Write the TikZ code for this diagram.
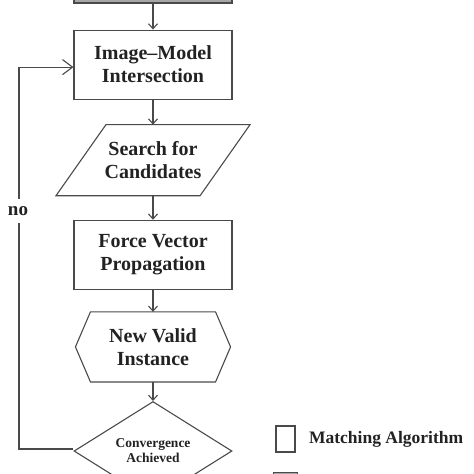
\documentclass[tikz,border=0pt]{standalone}
\usepackage{fontspec}
\setmainfont{Liberation Serif}
\usetikzlibrary{positioning,shapes.geometric,arrows.meta}
\definecolor{edge}{HTML}{4A4A4A}
\definecolor{shade}{HTML}{A6A6A6}
\definecolor{ink}{HTML}{222222}

\begin{document}
\begin{tikzpicture}[x=1pt, y=-1pt, line width=1.1pt, >={Straight Barb[length=5pt,width=9pt]},
    main/.style = {draw=edge, rectangle, minimum width=158pt, minimum height=69pt, align=center, text=ink, font=\fontsize{20}{23}\selectfont\bfseries},
    io/.style = {main, draw=none, minimum width=143pt, minimum height=70pt},
    hexa/.style = {main, draw=none, minimum width=154pt},
    cond/.style = {draw=edge, diamond, inner sep=0pt, minimum width=158pt, minimum height=78pt, align=center, text=ink, font=\fontsize{13.5}{15}\selectfont\bfseries},
    key/.style = {draw=edge, rectangle, minimum width=19pt, minimum height=26pt}]
  \useasboundingbox (0,0) rectangle (474,474);
  \clip (0,0) rectangle (474,474);

    \node[main, fill=shade] (pre) at (153,-31.5) {};
    \node[main] (imi) [below=26pt of pre] {Image--Model\\Intersection};
    \node[io] (srch) [below=25pt of imi] {Search for\\Candidates};
    \node[main] (fvp) [below=24pt of srch] {Force Vector\\Propagation};
    \node[hexa] (nvi) [below=22pt of fvp] {New Valid\\Instance};
    \node[cond] (conv) [below=19pt of nvi] {Convergence\\Achieved};
    \node[fill=white, inner xsep=1pt, inner ysep=7pt, text=ink, font=\fontsize{19}{21}\selectfont\bfseries] (no) at (18,211) {no};

    % outlines of the slanted and the six-sided box
    \draw[edge] ([xshift=25pt]srch.north west) -- ([xshift=25pt]srch.north east)
      -- ([xshift=-25pt]srch.south east) -- ([xshift=-25pt]srch.south west) -- cycle;
    \draw[edge] ([xshift=15pt]nvi.north west) -- ([xshift=-15pt]nvi.north east) -- (nvi.east)
      -- ([xshift=-15pt]nvi.south east) -- ([xshift=15pt]nvi.south west) -- (nvi.west) -- cycle;

    \draw[edge, ->] (pre) -- (imi);
    \draw[edge, ->] (imi) -- (srch);
    \draw[edge, ->] (srch) -- (fvp);
    \draw[edge, ->] (fvp) -- (nvi);
    \draw[edge, ->] (nvi) -- (conv);

    \draw[edge] ([yshift=2pt]conv.west) -| ([xshift=1pt]no.south);
    \draw[edge, -{Straight Barb[length=10pt,width=15pt]}] ([xshift=1pt]no.north) |- ([yshift=-2.5pt]imi.west);

    % legend
    \node[key] (k1) at (285.5,439) {};
    \node[inner sep=0pt, text=ink, font=\fontsize{17.5}{20}\selectfont\bfseries] (k1t) [right=13pt of k1] {Matching Algorithm};
    \node[key, fill=shade, minimum width=24pt] (k2) [below=19pt of k1] {};
  \end{tikzpicture}
\end{document}
